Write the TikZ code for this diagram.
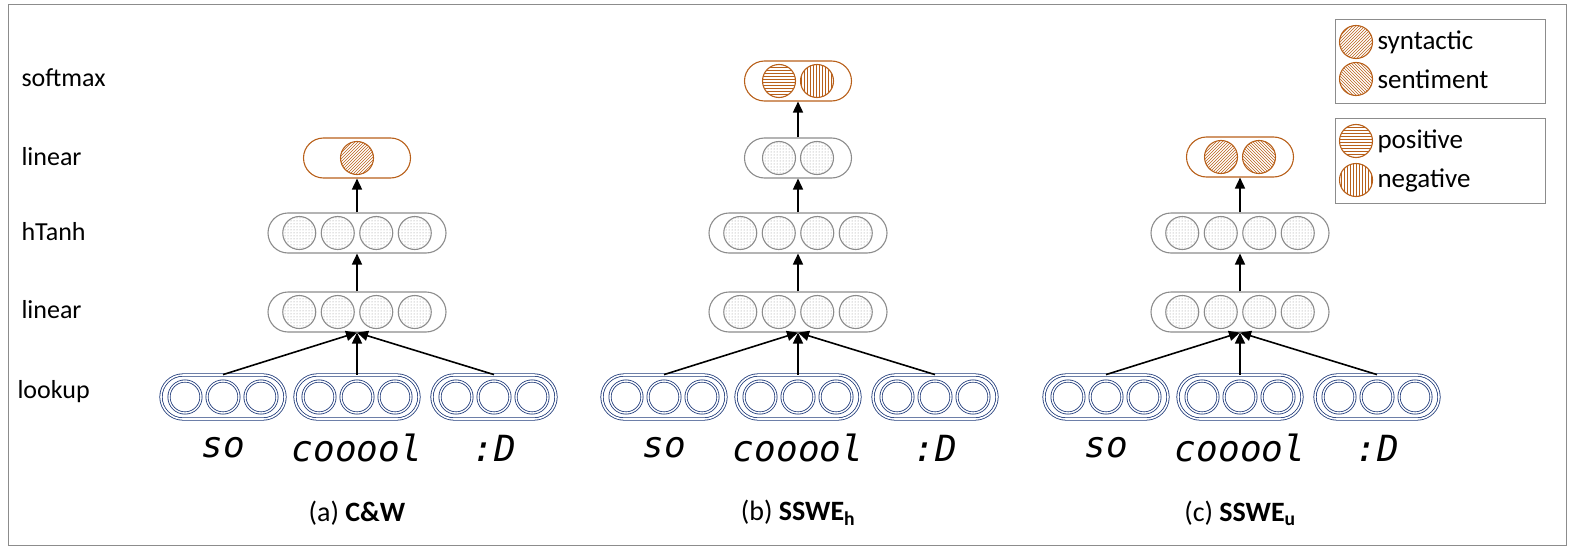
\documentclass[tikz,border=0pt]{standalone}
\usepackage{fontspec}
\setmainfont{Carlito}
\newfontfamily\wordfont{DejaVu Sans Mono}
\usetikzlibrary{shapes.misc,patterns,arrows.meta}
\definecolor{brn}{HTML}{B8601A}
\definecolor{nvy}{HTML}{1F3A7A}
\definecolor{gry}{HTML}{8C8C8C}
\tikzset{
 pill/.style={draw,rounded rectangle,inner sep=0pt,line width=1.1pt},
 cell/.style={draw,circle,inner sep=0pt,minimum size=33pt,line width=1.1pt},
 hid/.style={pill,draw=gry,minimum width=178pt,minimum height=40pt},
 hcell/.style={cell,draw=gry,pattern=dots,pattern color=gry},
 look/.style={pill,draw=nvy,double,double distance=1.6pt,line width=0.8pt,minimum width=124pt,minimum height=44pt},
 lcell/.style={cell,draw=nvy,double,double distance=1.4pt,line width=0.8pt,minimum size=32pt},
 outp/.style={pill,draw=brn,minimum width=107pt,minimum height=40pt},
 csyn/.style={cell,draw=brn,pattern=north east lines,pattern color=brn},
 csen/.style={cell,draw=brn,pattern=north west lines,pattern color=brn},
 cpos/.style={cell,draw=brn,pattern=horizontal lines,pattern color=brn},
 cneg/.style={cell,draw=brn,pattern=vertical lines,pattern color=brn},
 arr/.style={-{Triangle[length=11pt,width=10pt]},line width=1.6pt},
 lab/.style={font=\fontsize{26}{30}\selectfont,anchor=west},
 wrd/.style={font=\fontsize{36}{40}\wordfont\itshape},
 capt/.style={font=\fontsize{28}{32}\selectfont},
 leg/.style={font=\fontsize{27}{31}\selectfont,anchor=west},
}
\newcommand\hrow[3]{% name, x, y
 \node[hid] (#1) at (#2,#3) {};
 \foreach \k in {-1.5,-0.5,0.5,1.5} \node[hcell] at (#2+\k*38.5,#3) {};}
\newcommand\lrow[3]{%
 \node[look] (#1) at (#2,#3) {};
 \foreach \k in {-1,0,1} \node[lcell] at (#2+\k*38,#3) {};}
\newcommand\lookups[2]{% prefix, center x
 \lrow{#1l1}{#2-134}{397}\lrow{#1l2}{#2}{397}\lrow{#1l3}{#2+137}{397}
 \node[wrd] (#1w1) at (#2-134,448) {so};
 \node[wrd] (#1w2) at (#2,448) {cooool};
 \node[wrd] (#1w3) at (#2+137,448) {:D};
 \hrow{#1h1}{#2}{312}\hrow{#1h2}{#2}{233}
 \draw[arr] (#1l1.north) -- (#1h1.south);
 \draw[arr] (#1l3.north) -- (#1h1.south);
 \draw[arr] (#1l2.north) -- (#1h1.south);
 \draw[arr] (#1h1.north) -- (#1h2.south);}
\begin{document}
\begin{tikzpicture}[x=1pt,y=-1pt]
\useasboundingbox (0,0) rectangle (1574,551);
\draw[gry,line width=1pt] (8,5) rectangle (1566,545);
\node[lab] (t1) at (18,78) {softmax};
\node[lab] (t2) at (18,157) {linear};
\node[lab] (t3) at (18,232) {hTanh};
\node[lab] (t4) at (18,310) {linear};
\node[lab] (t5) at (14,392) {lookup};
% (a)
\lookups{a}{357}
\node[outp] (ao) at (357,158) {};
\node[csyn] at (357,158) {};
\draw[arr] (ah2.north) -- (ao.south);
\node[capt] (ac) at (357,513) {(a) \textbf{C\&W}};
% (b)
\lookups{b}{798}
\node[pill,draw=gry,minimum width=107pt,minimum height=40pt] (bl) at (798,158) {};
\node[hcell] at (779,158) {};\node[hcell] at (817,158) {};
\node[outp] (bo) at (798,81) {};
\node[cpos] at (779,81) {};\node[cneg] at (817,81) {};
\draw[arr] (bh2.north) -- (bl.south);
\draw[arr] (bl.north) -- (bo.south);
\node[capt] (bc) at (798,513) {(b) \textbf{SSWE\textsubscript{h}}};
% (c)
\lookups{c}{1240}
\node[outp] (co) at (1240,157) {};
\node[csyn] at (1221,157) {};\node[csen] at (1259,157) {};
\draw[arr] (ch2.north) -- (co.south);
\node[capt] (cc) at (1240,513) {(c) \textbf{SSWE\textsubscript{u}}};
% legend
\draw[gry,line width=1pt] (1335,20) rectangle (1545,103);
\draw[gry,line width=1pt] (1335,118) rectangle (1545,203);
\node[csyn] at (1356,42) {}; \node[leg] at (1374,42) {syntactic};
\node[csen] at (1356,79) {}; \node[leg] at (1374,79) {sentiment};
\node[cpos] at (1356,141) {}; \node[leg] at (1374,141) {positive};
\node[cneg] at (1356,180) {}; \node[leg] at (1374,180) {negative};
\end{tikzpicture}
\end{document}
